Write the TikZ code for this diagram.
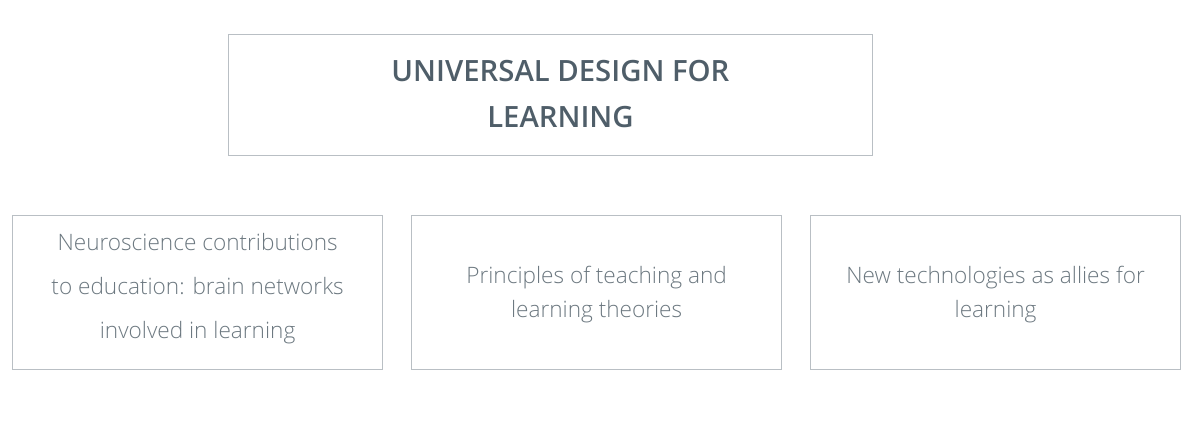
\documentclass[tikz,border=0pt]{standalone}
\usepackage{fontspec}
\setmainfont{Open Sans}[UprightFont=* Light, BoldFont=* Semibold]
\definecolor{titlec}{HTML}{4F5E69}
\definecolor{bodyc}{HTML}{6C7880}
\definecolor{linec}{HTML}{B9BFC4}
\begin{document}
\begin{tikzpicture}[x=1pt,y=-1pt,
  box/.style={draw=linec, line width=1.2pt, inner sep=0pt, anchor=north west},
  bodytxt/.style={text=bodyc, font=\fontsize{22.6}{34}\selectfont, align=center},
  titletxt/.style={text=titlec, font=\fontsize{29.3}{46}\selectfont\bfseries, align=center}]
\useasboundingbox (0,0) rectangle (1200,429);
\fill[white] (0,0) rectangle (1200,429);
\node[box, minimum width=644pt, minimum height=121pt] (top) at (228,34) {};
\node[titletxt] (toptxt) at (560.5,94) {UNIVERSAL DESIGN FOR\\LEARNING};
\node[box, minimum width=370pt, minimum height=154pt] (b1) at (12,215) {};
\node[box, minimum width=370pt, minimum height=154pt] (b2) at (411,215) {};
\node[box, minimum width=370pt, minimum height=154pt] (b3) at (810,215) {};
\node[bodytxt, font=\fontsize{22.6}{44}\selectfont] (t1) at (b1.center) [yshift=4pt] {Neuroscience contributions\\to education: brain networks\\involved in learning};
\node[bodytxt] (t2) at (b2.center) [yshift=-2pt] {Principles of teaching and\\learning theories};
\node[bodytxt] (t3) at (b3.center) [yshift=-2pt] {New technologies as allies for\\learning};
\end{tikzpicture}
\end{document}
